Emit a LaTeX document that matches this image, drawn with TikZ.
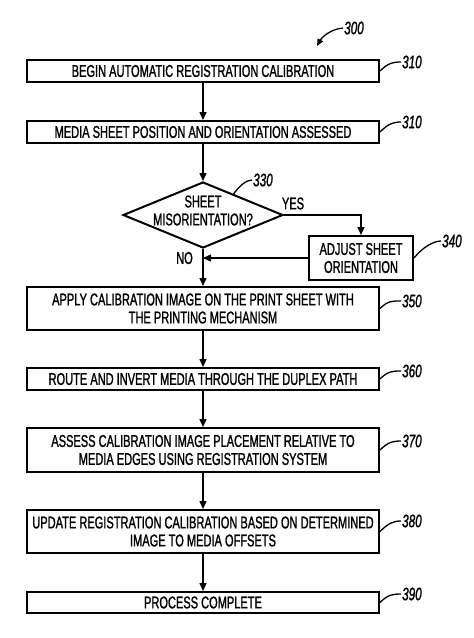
\documentclass[tikz,border=0pt]{standalone}
\usepackage{fontspec}
\setmainfont{Liberation Sans}[FakeStretch=0.65,FakeBold=1.2]
\usetikzlibrary{shapes.geometric,arrows.meta}

\begin{document}
\begin{tikzpicture}[x=1pt,y=-1pt,every node/.style={black},
	stepbox/.style={draw,line width=2pt,minimum width=352pt,inner sep=0pt,align=center,font=\fontsize{17}{18}\selectfont},
	decision/.style={draw,diamond,line width=2pt,minimum width=160pt,minimum height=66pt,inner sep=0pt},
	flow/.style={line width=1.5pt,-{Triangle[length=8pt,width=7pt]}},
	lead/.style={line width=1.3pt},
	refnum/.style={font=\fontsize{18}{18}\selectfont\itshape,inner sep=1pt},
	branch/.style={font=\fontsize{17}{18}\selectfont,inner sep=0pt}]
	\useasboundingbox (0,0) rectangle (474,638);

	\node[stepbox,minimum height=22pt] (begin) at (203,71) {BEGIN AUTOMATIC REGISTRATION CALIBRATION};
	\node[stepbox,minimum height=22pt] (assess) at (203,132) {MEDIA SHEET POSITION AND ORIENTATION ASSESSED};
	\node[decision] (check) at (203,215) {};
	\node[branch,align=center] (checktext) at (203,210.5) {SHEET\\MISORIENTATION?};
	\node[stepbox,minimum width=104pt,minimum height=44pt] (adjust) at (361,258) {ADJUST SHEET\\ORIENTATION};
	\node[stepbox,minimum height=43pt] (apply) at (203,308.5) {APPLY CALIBRATION IMAGE ON THE PRINT SHEET WITH\\THE PRINTING MECHANISM};
	\node[stepbox,minimum height=22pt] (route) at (203,379) {ROUTE AND INVERT MEDIA THROUGH THE DUPLEX PATH};
	\node[stepbox,minimum height=44pt] (measure) at (203,450) {ASSESS CALIBRATION IMAGE PLACEMENT RELATIVE TO\\MEDIA EDGES USING REGISTRATION SYSTEM};
	\node[stepbox,minimum height=43pt] (update) at (203,531.5) {UPDATE REGISTRATION CALIBRATION BASED ON DETERMINED\\IMAGE TO MEDIA OFFSETS};
	\node[stepbox,minimum height=21pt] (done) at (203,602.5) {PROCESS COMPLETE};

	\coordinate (merge) at (check.south |- adjust.west);
	\coordinate (tip300) at (317,46);

	\draw[flow] (begin) -- (assess);
	\draw[flow] (assess) -- (check);
	\draw[flow] (check.east) -| (adjust.north);
	\draw[flow] (adjust.west) -- (merge);
	\draw[flow] (check.south) -- (apply.north);
	\draw[flow] (apply) -- (route);
	\draw[flow] (route) -- (measure);
	\draw[flow] (measure) -- (update);
	\draw[flow] (update) -- (done);

	\node[branch] (yes) at (293,203.5) {YES};
	\node[branch,anchor=east] (no) at (193,258) {NO};

	% reference numerals
	\node[refnum] (l300) at (354,28) {300};
	\node[refnum,anchor=west] (l310a) at (401,62) {310};
	\node[refnum,anchor=west] (l310b) at (401,122) {310};
	\node[refnum,anchor=west] (l330) at (252,180) {330};
	\node[refnum,anchor=west] (l340) at (441,241) {340};
	\node[refnum,anchor=west] (l350) at (401,301) {350};
	\node[refnum,anchor=west] (l360) at (401,371) {360};
	\node[refnum,anchor=west] (l370) at (401,441) {370};
	\node[refnum,anchor=west] (l380) at (401,521) {380};
	\node[refnum,anchor=west] (l390) at (401,594) {390};

	\draw[lead,-{Triangle[length=7pt,width=6pt]}] (l300.west) .. controls +(-12,1) and +(5,-9) .. (tip300);
	\draw[lead] (begin.east) .. controls +(8,-8) and +(-8,0) .. (l310a.west);
	\draw[lead] (assess.east) .. controls +(8,-8) and +(-8,0) .. (l310b.west);
	\draw[lead] ([xshift=-10pt,yshift=4pt]check.north east) .. controls +(6,-8) and +(-6,0) .. (l330.west);
	\draw[lead] (adjust.east) .. controls +(8,-10) and +(-8,0) .. (l340.west);
	\draw[lead] (apply.east) .. controls +(8,-8) and +(-8,0) .. (l350.west);
	\draw[lead] (route.east) .. controls +(8,-8) and +(-8,0) .. (l360.west);
	\draw[lead] (measure.east) .. controls +(8,-8) and +(-8,0) .. (l370.west);
	\draw[lead] (update.east) .. controls +(8,-8) and +(-8,0) .. (l380.west);
	\draw[lead] (done.east) .. controls +(8,-8) and +(-8,0) .. (l390.west);
\end{tikzpicture}
\end{document}
